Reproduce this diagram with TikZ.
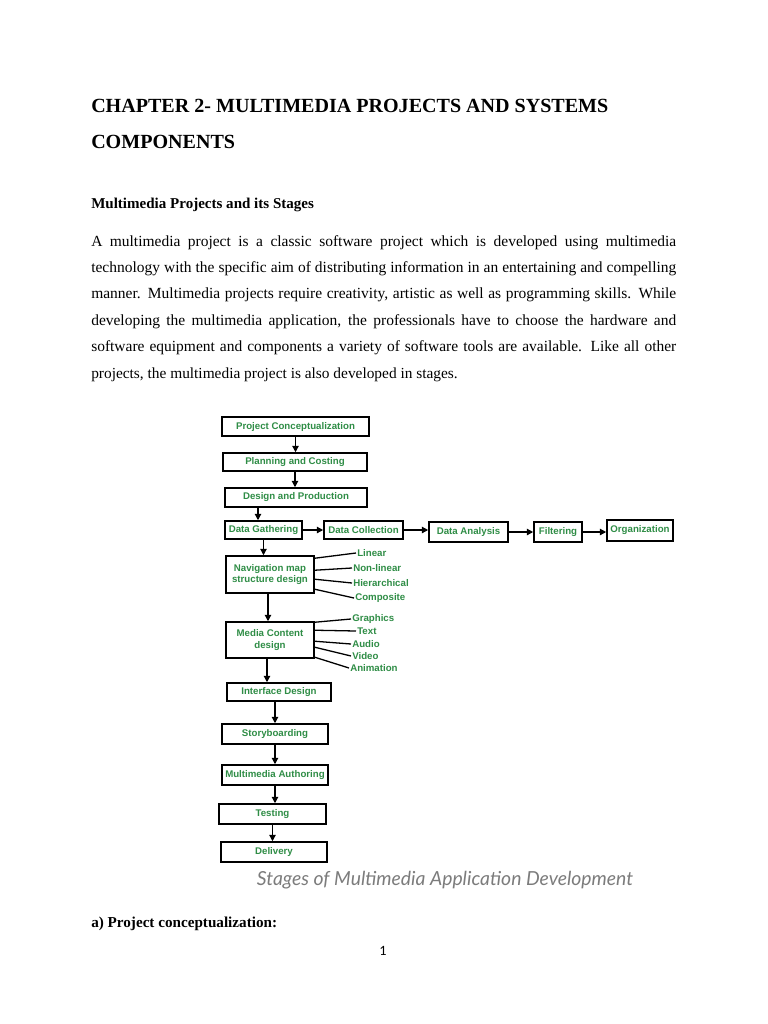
\documentclass[tikz,border=0pt]{standalone}
\usepackage{fontspec}
\usepackage{tikz}
\usetikzlibrary{arrows.meta}

\setmainfont{Liberation Serif}
\newfontfamily\gfgfont{Liberation Sans}
\newfontfamily\capfont{Lato}
\newfontfamily\pagenumfont{Carlito}

\definecolor{gfggreen}{HTML}{2F8D46}
\definecolor{capgray}{HTML}{7C7C7C}

\newlength\pxu
\setlength\pxu{0.775pt}
\newcommand\jline[1]{\makebox[585\pxu][s]{#1}}

\tikzset{
	stage/.style={draw=black, line width=1.2pt, fill=white, inner sep=0pt, align=center,
		font=\gfgfont\bfseries\fontsize{7.5}{8.6}\selectfont, text=gfggreen},
	leaf/.style={anchor=west, inner sep=0.8pt, font=\gfgfont\bfseries\fontsize{7.5}{8.6}\selectfont, text=gfggreen},
	flow/.style={-{Triangle[length=5pt,width=5pt]}, line width=1pt},
	twig/.style={line width=1pt},
	body/.style={anchor=base west, inner sep=0pt, font=\fontsize{12}{14}\selectfont},
}

\begin{document}
\begin{tikzpicture}[x=0.775pt, y=-0.775pt]

	\useasboundingbox[fill=white] (0,0) rectangle (768,1024);

	% heading
	\node[body, font=\bfseries\fontsize{15.55}{19}\selectfont] (title1) at (91,112) {CHAPTER 2- MULTIMEDIA PROJECTS AND SYSTEMS};
	\node[body, font=\bfseries\fontsize{15.55}{19}\selectfont] (title2) at (91,148) {COMPONENTS};
	\node[body, font=\bfseries\fontsize{11.65}{14}\selectfont] (sub) at (91,208) {Multimedia Projects and its Stages};

	% paragraph
	\node[body] (p1) at (91,246) {\jline{A multimedia project is a classic software project which is developed using multimedia}};
	\node[body] (p2) at (91,272.4) {\jline{technology with the specific aim of distributing information in an entertaining and compelling}};
	\node[body] (p3) at (91,298.8) {\jline{manner. Multimedia projects require creativity, artistic as well as programming skills. While}};
	\node[body] (p4) at (91,325.2) {\jline{developing the multimedia application, the professionals have to choose the hardware and}};
	\node[body] (p5) at (91,351.6) {\jline{software equipment and components a variety of software tools are available. Like all other}};
	\node[body, font=\fontsize{11.92}{14}\selectfont] (p6) at (91,378) {projects, the multimedia project is also developed in stages.};

	% stages
	\node[stage, minimum width=147\pxu, minimum height=19\pxu] (concept) at (295.5,426.5) {Project Conceptualization};
	\node[stage, minimum width=144\pxu, minimum height=18\pxu] (plan) at (295,462) {Planning and Costing};
	\node[stage, minimum width=142\pxu, minimum height=19\pxu] (design) at (296,497.5) {Design and Production};
	\node[stage, minimum width=77\pxu, minimum height=18\pxu] (gather) at (263.5,530) {Data Gathering};
	\node[stage, minimum width=79\pxu, minimum height=18\pxu] (collect) at (363.5,530) {Data Collection};
	\node[stage, minimum width=79\pxu, minimum height=20\pxu] (analysis) at (468.5,532) {Data Analysis};
	\node[stage, minimum width=48\pxu, minimum height=20\pxu] (filter) at (558,532) {Filtering};
	\node[stage, minimum width=66\pxu, minimum height=21\pxu] (organize) at (640,530.5) {Organization};
	\node[stage, minimum width=88\pxu, minimum height=37\pxu] (navmap) at (270,574.5) {Navigation map\\structure design};
	\node[stage, minimum width=88\pxu, minimum height=36\pxu] (media) at (270,640) {Media Content\\design};
	\node[stage, minimum width=104\pxu, minimum height=18\pxu] (iface) at (279,692) {Interface Design};
	\node[stage, minimum width=106\pxu, minimum height=20\pxu] (story) at (275,734) {Storyboarding};
	\node[stage, minimum width=106\pxu, minimum height=20\pxu] (author) at (275,775) {Multimedia Authoring};
	\node[stage, minimum width=107\pxu, minimum height=20\pxu] (testing) at (272.5,814) {Testing};
	\node[stage, minimum width=106\pxu, minimum height=20\pxu] (deliver) at (274,852) {Delivery};

	% navigation branches
	\node[leaf] (linear) at (356,553) {Linear};
	\node[leaf] (nonlinear) at (352,568) {Non-linear};
	\node[leaf] (hier) at (352,583) {Hierarchical};
	\node[leaf] (compo) at (354,598) {Composite};
	% media branches
	\node[leaf] (graphics) at (351,619) {Graphics};
	\node[leaf] (textl) at (356,631) {Text};
	\node[leaf] (audio) at (351,644) {Audio};
	\node[leaf] (video) at (351,656) {Video};
	\node[leaf] (anim) at (349,668) {Animation};

	\draw[twig] ([yshift=-3\pxu]navmap.north east) -- (linear.west);
	\draw[twig] ([yshift=-15\pxu]navmap.north east) -- (nonlinear.west);
	\draw[twig] ([yshift=-24\pxu]navmap.north east) -- (hier.west);
	\draw[twig] ([yshift=-34\pxu]navmap.north east) -- (compo.west);
	\draw[twig] ([yshift=-1\pxu]media.north east) -- (graphics.west);
	\draw[twig] ([yshift=-9\pxu]media.north east) -- (textl.west);
	\draw[twig] ([yshift=-20\pxu]media.north east) -- (audio.west);
	\draw[twig] ([yshift=-26\pxu]media.north east) -- (video.west);
	\draw[twig] ([yshift=-36\pxu]media.north east) -- (anim.west);

	% arrows
	\draw[flow] (concept.south) -- (concept.south |- plan.north);
	\draw[flow] (plan.south) -- (plan.south |- design.north);
	\draw[flow] ([xshift=-5.5\pxu]gather.north |- design.south) -- ([xshift=-5.5\pxu]gather.north);
	\draw[flow] (gather) -- (collect);
	\draw[flow] (collect.east) -- (collect.east -| analysis.west);
	\draw[flow] (analysis) -- (filter);
	\draw[flow] (filter.east) -- (filter.east -| organize.west);
	\draw[flow] (gather.south) -- (gather.south |- navmap.north);
	\draw[flow] ([xshift=-2\pxu]navmap.south) -- ([xshift=-2\pxu]media.north);
	\draw[flow] ([xshift=-3\pxu]media.south) -- ([xshift=-3\pxu]media.south |- iface.north);
	\draw[flow] (story.north |- iface.south) -- (story.north);
	\draw[flow] (story) -- (author);
	\draw[flow] (author.south) -- (author.south |- testing.north);
	\draw[flow] (testing.south) -- (testing.south |- deliver.north);

	% caption
	\node[inner sep=0pt, text=capgray, font=\capfont\itshape\fontsize{15}{17}\selectfont] (caption) at (445,880) {Stages of Multimedia Application Development};

	\node[body, font=\bfseries\fontsize{11.75}{14}\selectfont] (conc) at (91,927) {a) Project conceptualization:};
	\node[inner sep=0pt, anchor=base, font=\pagenumfont\fontsize{11}{13}\selectfont] (pagenum) at (383,955) {1};

\end{tikzpicture}
\end{document}
